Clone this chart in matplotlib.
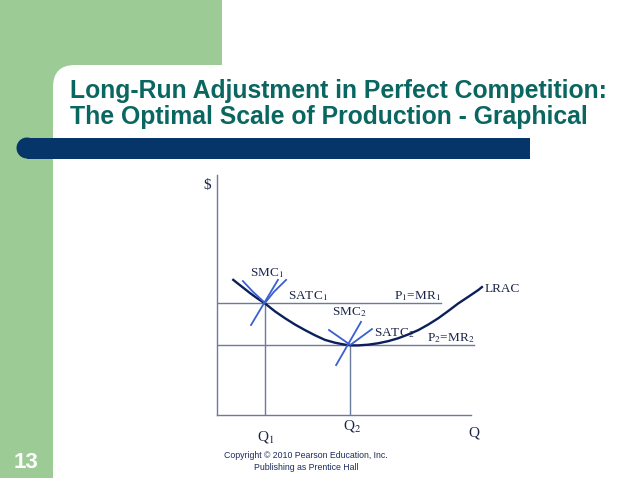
import numpy as np
import matplotlib
matplotlib.use("Agg")
import matplotlib.pyplot as plt
from matplotlib.patches import Rectangle, FancyBboxPatch, Circle

plt.rcParams["mathtext.fontset"] = "stix"

# long-run average cost curve
lrac_q = [0.64, 1.00, 1.30, 1.60, 1.90, 2.28, 2.68, 3.07, 3.46, 3.86, 4.25, 4.65, 5.04,
          5.30, 5.56, 5.95, 6.35, 6.75, 7.14, 7.54, 7.93, 8.32, 8.71, 9.10, 9.50, 9.90,
          10.29, 10.43]
lrac_c = [5.63, 5.33, 5.08, 4.85, 4.64, 4.32, 4.03, 3.77, 3.54, 3.32, 3.13, 3.01, 2.93,
          2.90, 2.90, 2.93, 2.99, 3.08, 3.20, 3.36, 3.54, 3.77, 4.03, 4.33, 4.65, 4.93,
          5.21, 5.33]

# short-run curves around the two plant sizes
smc1_q = [1.34, 2.40]
smc1_c = [3.75, 5.63]
satc1_q = [1.02, 1.42, 1.89, 2.24, 2.72]
satc1_c = [5.58, 5.13, 4.67, 5.13, 5.63]
smc2_q = [4.69, 5.67]
smc2_c = [2.08, 3.88]
satc2_q = [4.41, 5.25, 6.10]
satc2_c = [3.54, 2.92, 3.58]

q1, q2 = 1.89, 5.25
p1, p2 = 4.65, 2.92
p1_end, p2_end = 8.8, 10.1

fig = plt.figure(figsize=(6.38, 4.78), dpi=100)

# slide background in pixel coords
bg = fig.add_axes([0, 0, 1, 1])
bg.set_xlim(0, 638)
bg.set_ylim(478, 0)
bg.axis("off")
green = "#9ccb96"
bg.add_patch(Rectangle((0, 0), 222, 95, color=green, lw=0))
bg.add_patch(Rectangle((0, 0), 53, 478, color=green, lw=0))
bg.add_patch(FancyBboxPatch((53, 65), 700, 600, boxstyle="round,pad=0,rounding_size=22",
                            fc="white", ec="none"))
navy = "#06356a"
bg.add_patch(Rectangle((27, 137.5), 503, 21, color=navy, lw=0))
bg.add_patch(Circle((27, 148), 10.5, color=navy, lw=0))

title_col = "#0a6660"
bg.text(70, 91, "Long-Run Adjustment in Perfect Competition:", fontsize=17.8,
        fontweight="bold", family="Liberation Sans", color=title_col, va="center")
bg.text(70, 117, "The Optimal Scale of Production - Graphical", fontsize=17.8,
        fontweight="bold", family="Liberation Sans", color=title_col, va="center")
bg.text(26, 462, "13", fontsize=16, fontweight="bold", family="Liberation Sans",
        color="white", ha="center", va="center")
bg.text(306, 455, "Copyright \u00a9 2010 Pearson Education, Inc.", fontsize=6.3,
        family="Liberation Sans", color="#1c2c5c", ha="center", va="center")
bg.text(306, 467, "Publishing as Prentice Hall", fontsize=6.3,
        family="Liberation Sans", color="#1c2c5c", ha="center", va="center")

# the diagram
ax = fig.add_axes([217 / 638, 63 / 478, 304.8 / 638, 240 / 478])
ax.set_xlim(0, 12)
ax.set_ylim(0, 10)
ax.patch.set_alpha(0)
axis_col = "#6a7c9c"
for s in ["top", "right"]:
    ax.spines[s].set_visible(False)
ax.spines["left"].set_color(axis_col)
ax.spines["bottom"].set_color(axis_col)
ax.spines["left"].set_linewidth(1)
ax.spines["bottom"].set_linewidth(1)
ax.spines["bottom"].set_bounds(0, 10)
ax.set_xticks([])
ax.set_yticks([])

ax.plot([0, p1_end], [p1, p1], color=axis_col, lw=1)
ax.plot([0, p2_end], [p2, p2], color=axis_col, lw=1)
ax.plot([q1, q1], [0, p1], color=axis_col, lw=1)
ax.plot([q2, q2], [0, p2], color=axis_col, lw=1)

ax.plot(lrac_q, lrac_c, color="#0b1f5a", lw=1.7, clip_on=False, solid_joinstyle="round")
blue = "#3a5fd0"
ax.plot(smc1_q, smc1_c, color=blue, lw=1.3)
ax.plot(satc1_q, satc1_c, color=blue, lw=1.3)
ax.plot(smc2_q, smc2_c, color=blue, lw=1.3)
ax.plot(satc2_q, satc2_c, color=blue, lw=1.3)

tc = "#1a2448"
lab = dict(family="Liberation Serif", color=tc, clip_on=False, va="center")
ax.text(-0.39, 9.58, "$", fontsize=11, ha="center", **lab)
ax.text(1.97, 5.92, r"SMC$_1$", fontsize=9.5, ha="center", **lab)
ax.text(2.80, 4.96, r"SATC$_1$", fontsize=9.5, ha="left", **lab)
ax.text(8.82, 4.96, r"P$_1$=MR$_1$", fontsize=9.5, ha="right", **lab)
ax.text(4.53, 4.29, r"SMC$_2$", fontsize=9.5, ha="left", **lab)
ax.text(6.18, 3.42, r"SATC$_2$", fontsize=9.5, ha="left", **lab)
ax.text(8.27, 3.21, r"P$_2$=MR$_2$", fontsize=9.5, ha="left", **lab)
ax.text(10.55, 5.25, "LRAC", fontsize=9.5, ha="left", **lab)
ax.text(1.57, -0.92, r"Q$_1$", fontsize=11, ha="left", **lab)
ax.text(4.96, -0.46, r"Q$_2$", fontsize=11, ha="left", **lab)
ax.text(9.88, -0.75, "Q", fontsize=11, ha="left", **lab)

fig.savefig("out.png", dpi=100)
